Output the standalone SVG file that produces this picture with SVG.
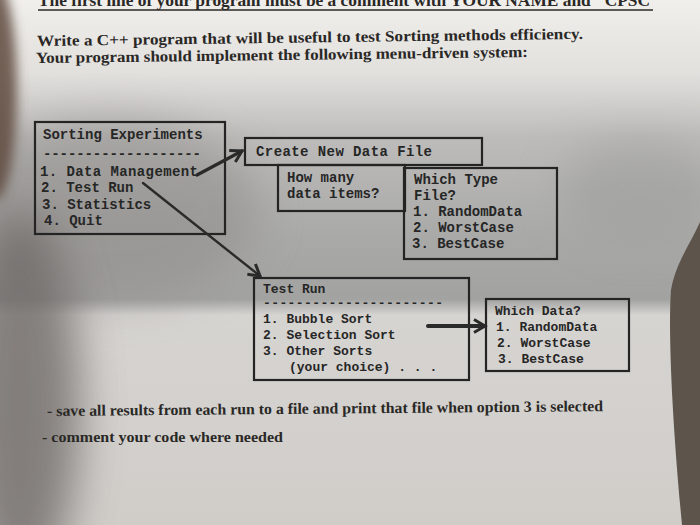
<svg xmlns="http://www.w3.org/2000/svg" width="700" height="525" viewBox="0 0 700 525">
<defs>
<style>
.hdr{font-family:"Liberation Serif","Times New Roman",serif;font-weight:bold;fill:#2a2826}
.mono{font-family:"Liberation Mono","Courier New",monospace;font-weight:bold;fill:#262626}
.box{fill:none;stroke:#242424;stroke-width:2.2}
.conn{fill:none;stroke:#2a2a2a;stroke-linecap:round}
</style>
<linearGradient id="bg" x1="0" y1="0" x2="0" y2="1">
<stop offset="0" stop-color="#f1efec"/>
<stop offset="0.14" stop-color="#e2e0dd"/>
<stop offset="0.26" stop-color="#bdbcba"/>
<stop offset="0.45" stop-color="#a9a9a8"/>
<stop offset="0.57" stop-color="#a2a2a1"/>
<stop offset="0.60" stop-color="#d6d4d1"/>
<stop offset="1" stop-color="#d0cdc9"/>
</linearGradient>
<filter id="blur" x="-50%" y="-50%" width="200%" height="200%"><feGaussianBlur stdDeviation="22"/></filter>
<filter id="blur2" x="-50%" y="-50%" width="200%" height="200%"><feGaussianBlur stdDeviation="6"/></filter>
<marker id="head" markerUnits="userSpaceOnUse" markerWidth="18" markerHeight="18" refX="13" refY="8" orient="auto">
<path d="M2,1.5 L13,8 L2,14.5" fill="none" stroke="#2a2a2a" stroke-width="3" stroke-linejoin="miter"/>
</marker>
</defs>

<!-- paper / photo background -->
<rect x="0" y="0" width="700" height="525" fill="url(#bg)"/>
<ellipse cx="110" cy="210" rx="150" ry="90" fill="#8f8c89" opacity="0.55" filter="url(#blur)"/>
<ellipse cx="20" cy="400" rx="60" ry="190" fill="#6f6b67" opacity="0.8" filter="url(#blur)"/>
<ellipse cx="-5" cy="90" rx="22" ry="110" fill="#5e4a3e" opacity="0.85" filter="url(#blur2)"/>
<ellipse cx="640" cy="190" rx="80" ry="50" fill="#9a9a9a" opacity="0.5" filter="url(#blur)"/>
<path d="M700,222 C690,245 676,262 671,290 C668,330 672,420 682,525 L700,525 Z" fill="#5d554c"/>

<!-- header texts -->
<g id="header">
<text class="hdr" x="38" y="6" font-size="17" textLength="612" lengthAdjust="spacingAndGlyphs">The first line of your program must be a comment with YOUR NAME and "CPSC</text>
<line x1="38" y1="10" x2="653" y2="10" stroke="#2a2826" stroke-width="1.5"/>
<text class="hdr" x="37" y="46" font-size="15.5" textLength="546" lengthAdjust="spacingAndGlyphs" transform="rotate(-0.75 37 46)">Write a C++ program that will be useful to test Sorting methods efficiency.</text>
<text class="hdr" x="36" y="63" font-size="15.5" textLength="492" lengthAdjust="spacingAndGlyphs" transform="rotate(-0.7 36 63)">Your program should implement the following menu-driven system:</text>
</g>

<!-- nodes -->
<g id="sorting-experiments">
<rect class="box" x="35" y="122" width="190" height="112"/>
<text class="mono" x="43" y="139" font-size="14">Sorting Experiments</text>
<text class="mono" x="43" y="158" font-size="14" textLength="158" lengthAdjust="spacing">-------------------</text>
<text class="mono" x="40" y="176" font-size="14" textLength="158" lengthAdjust="spacing">1. Data Management</text>
<text class="mono" x="41" y="192" font-size="14">2. Test Run</text>
<text class="mono" x="42" y="209" font-size="14">3. Statistics</text>
<text class="mono" x="44" y="225" font-size="14">4. Quit</text>
</g>

<g id="create-new-data-file">
<rect class="box" x="245" y="138" width="237" height="27"/>
<text class="mono" x="256" y="156" font-size="14" textLength="176" lengthAdjust="spacing">Create New Data File</text>
</g>

<g id="how-many">
<rect class="box" x="278" y="165" width="127" height="46"/>
<text class="mono" x="287" y="182" font-size="14">How many</text>
<text class="mono" x="287" y="198" font-size="14">data items?</text>
</g>

<g id="which-type">
<rect class="box" x="404" y="168" width="153" height="91"/>
<text class="mono" x="414" y="184" font-size="14">Which Type</text>
<text class="mono" x="414" y="200" font-size="14">File?</text>
<text class="mono" x="413" y="216" font-size="14">1. RandomData</text>
<text class="mono" x="413" y="232" font-size="14">2. WorstCase</text>
<text class="mono" x="412" y="248" font-size="14">3. BestCase</text>
</g>

<g id="test-run">
<rect class="box" x="254" y="278" width="215" height="102"/>
<text class="mono" x="263" y="293" font-size="13">Test Run</text>
<text class="mono" x="263" y="307" font-size="13" textLength="180" lengthAdjust="spacing">----------------------</text>
<text class="mono" x="263" y="323" font-size="13">1. Bubble Sort</text>
<text class="mono" x="263" y="339" font-size="13">2. Selection Sort</text>
<text class="mono" x="263" y="355" font-size="13">3. Other Sorts</text>
<text class="mono" x="289" y="371" font-size="13">(your choice) . . .</text>
</g>

<g id="which-data">
<rect class="box" x="486" y="299" width="143" height="72"/>
<text class="mono" x="495" y="315" font-size="13">Which Data?</text>
<text class="mono" x="496" y="331" font-size="13">1. RandomData</text>
<text class="mono" x="497" y="347" font-size="13">2. WorstCase</text>
<text class="mono" x="498" y="363" font-size="13">3. BestCase</text>
</g>

<!-- connectors -->
<g id="connectors">
<line class="conn" x1="197" y1="175" x2="242" y2="151" stroke-width="3.2" marker-end="url(#head)"/>
<line class="conn" x1="143" y1="183" x2="260" y2="276" stroke-width="2.4" marker-end="url(#head)"/>
<line class="conn" x1="428" y1="326" x2="485" y2="326" stroke-width="4" marker-end="url(#head)"/>
</g>

<!-- footer notes -->
<g id="notes">
<text class="hdr" x="47" y="416" font-size="15.5" textLength="556" lengthAdjust="spacingAndGlyphs" transform="rotate(-0.5 47 416)">- save all results from each run to a file and print that file when option 3 is selected</text>
<text class="hdr" x="42" y="442" font-size="15.5" textLength="241" lengthAdjust="spacingAndGlyphs">- comment your code where needed</text>
</g>
</svg>
